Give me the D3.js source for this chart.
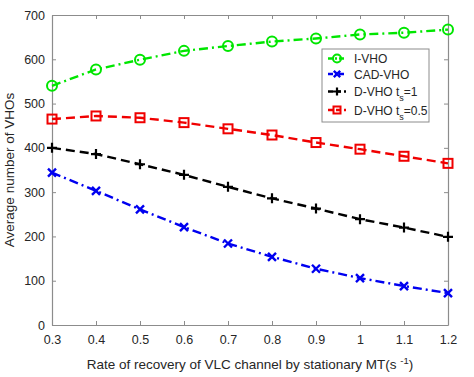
<!DOCTYPE html>
<html>
<head>
<meta charset="utf-8">
<script src="https://cdn.jsdelivr.net/npm/d3@7"></script>
<style>
  body { margin: 0; background: #fff; }
  svg { font-family: Arial, 'Liberation Sans', sans-serif; }
  .tick text { font-size: 12.5px; fill: #262626; }
</style>
</head>
<body>
<svg width="474" height="377"></svg>
<script>
const rates = [0.3, 0.4, 0.5, 0.6, 0.7, 0.8, 0.9, 1.0, 1.1, 1.2]
const iVho = [540, 577, 599, 619, 630, 640, 647, 656, 660, 667]
const cadVho = [344, 303, 261, 221, 184, 154, 127, 106, 88, 72]
const dVho1 = [400, 386, 363, 339, 312, 286, 263, 239, 220, 199]
const dVho05 = [465, 472, 468, 457, 443, 429, 412, 397, 381, 365]
const xTicks = [0.3, 0.4, 0.5, 0.6, 0.7, 0.8, 0.9, 1, 1.1, 1.2]
const yTicks = [0, 100, 200, 300, 400, 500, 600, 700]

const svg = d3.select('svg')
const margin = { top: 15, right: 26, bottom: 52, left: 52 }
const width = +svg.attr('width')
const height = +svg.attr('height')
const innerWidth = width - margin.left - margin.right
const innerHeight = height - margin.top - margin.bottom

const xScale = d3.scaleLinear().domain([0.3, 1.2]).range([0, innerWidth])
const yScale = d3.scaleLinear().domain([0, 700]).range([innerHeight, 0])

const g = svg.append('g')
  .attr('transform', `translate(${margin.left}, ${margin.top})`)

const axisColor = '#8c8c8c'

// bottom / left axes with inner ticks
const xAxisG = g.append('g')
  .attr('transform', `translate(0, ${innerHeight})`)
  .call(d3.axisBottom(xScale).tickValues(xTicks).tickSizeInner(-4).tickSizeOuter(0).tickPadding(10)
    .tickFormat(d => d3.format('')(d)))
const yAxisG = g.append('g')
  .call(d3.axisLeft(yScale).tickValues(yTicks).tickSizeInner(-4).tickSizeOuter(0).tickPadding(7))

// top / right ticks, no labels
const xTop = g.append('g')
  .call(d3.axisTop(xScale).tickValues(xTicks).tickSizeInner(-4).tickSizeOuter(0))
const yRight = g.append('g')
  .attr('transform', `translate(${innerWidth}, 0)`)
  .call(d3.axisRight(yScale).tickValues(yTicks).tickSizeInner(-4).tickSizeOuter(0))
xTop.selectAll('.tick text').remove()
yRight.selectAll('.tick text').remove()

;[xAxisG, yAxisG, xTop, yRight].forEach(a => {
  a.selectAll('.domain').attr('stroke', axisColor).attr('stroke-width', 1.2)
  a.selectAll('.tick line').attr('stroke', axisColor)
})

// axis labels
g.append('text')
  .attr('x', innerWidth / 2)
  .attr('y', innerHeight + 44)
  .attr('text-anchor', 'middle')
  .attr('font-size', 13.5)
  .attr('fill', '#262626')
  .html('Rate of recovery of VLC channel by stationary MT(s <tspan dy="-5" font-size="9.5">-1</tspan><tspan dy="5">)</tspan>')

g.append('text')
  .attr('transform', `translate(-38, ${innerHeight / 2}) rotate(-90)`)
  .attr('text-anchor', 'middle')
  .attr('font-size', 13.5)
  .attr('fill', '#262626')
  .text('Average number of VHOs')

const seriesList = [
  { name: 'I-VHO', values: iVho, color: '#00e600', dash: '9,4,2,4', marker: 'circle' },
  { name: 'CAD-VHO', values: cadVho, color: '#0000f0', dash: '9,4,2,4', marker: 'x' },
  { name: 'D-VHO t', sub: 's', tail: '=1', values: dVho1, color: '#000', dash: '9,5', marker: 'plus' },
  { name: 'D-VHO t', sub: 's', tail: '=0.5', values: dVho05, color: '#f00000', dash: '9,5', marker: 'square' }
]

const line = d3.line()
  .x(d => xScale(d[0]))
  .y(d => yScale(d[1]))

const drawMarker = (sel, type, color, x, y, s) => {
  if (type === 'circle') {
    sel.append('circle').attr('cx', x).attr('cy', y).attr('r', s)
      .attr('fill', 'none').attr('stroke', color).attr('stroke-width', 2)
  } else if (type === 'square') {
    sel.append('rect').attr('x', x - s).attr('y', y - s).attr('width', 2 * s).attr('height', 2 * s)
      .attr('fill', 'none').attr('stroke', color).attr('stroke-width', 2)
  } else if (type === 'plus') {
    sel.append('path').attr('d', `M${x - s},${y}H${x + s}M${x},${y - s}V${y + s}`)
      .attr('stroke', color).attr('stroke-width', 2.2)
  } else {
    const k = s * 0.8
    sel.append('path').attr('d', `M${x - k},${y - k}L${x + k},${y + k}M${x - k},${y + k}L${x + k},${y - k}`)
      .attr('stroke', color).attr('stroke-width', 2.4)
  }
}

seriesList.forEach(s => {
  const pts = rates.map((r, i) => [r, s.values[i]])
  g.append('path')
    .datum(pts)
    .attr('d', line)
    .attr('fill', 'none')
    .attr('stroke', s.color)
    .attr('stroke-width', 2.4)
    .attr('stroke-dasharray', s.dash)
  const mg = g.append('g')
  pts.forEach(p => drawMarker(mg, s.marker, s.color, xScale(p[0]), yScale(p[1]), s.marker === 'square' ? 4.5 : 5))
})

// legend
const legend = svg.append('g').attr('transform', 'translate(322, 49)')
legend.append('rect')
  .attr('width', 107).attr('height', 73)
  .attr('fill', '#fff').attr('stroke', '#8c8c8c').attr('stroke-width', 1)

const rowY = [9.5, 25, 42.5, 61]
seriesList.forEach((s, i) => {
  const y = rowY[i]
  legend.append('line')
    .attr('x1', 6).attr('x2', 24).attr('y1', y).attr('y2', y)
    .attr('stroke', s.color).attr('stroke-width', 2.4)
    .attr('stroke-dasharray', s.dash === '9,5' ? '5,3' : '5,2,2,2')
  drawMarker(legend, s.marker, s.color, 15, y, s.marker === 'square' ? 3.5 : 4)
  const t = legend.append('text')
    .attr('x', 32).attr('y', y + 4.5)
    .attr('font-size', 12)
    .attr('fill', '#262626')
  t.append('tspan').text(s.name)
  if (s.sub) {
    t.append('tspan').attr('dy', 5).attr('font-size', 9).text(s.sub)
    t.append('tspan').attr('dy', -5).text(s.tail)
  }
})
</script>
</body>
</html>
